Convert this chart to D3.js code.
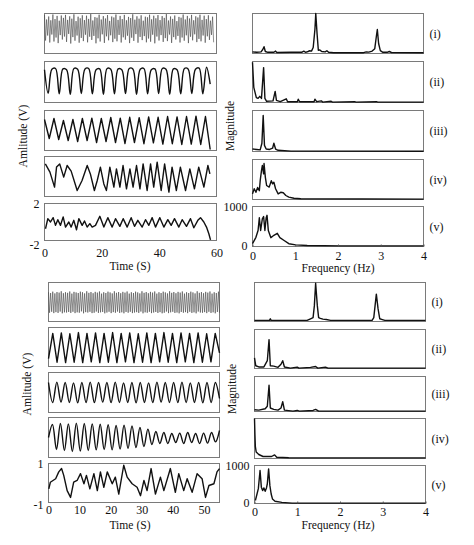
<!DOCTYPE html>
<html>
<head>
<meta charset="utf-8">
<script src="https://cdn.jsdelivr.net/npm/d3@7"></script>
<style>
  body { margin: 0; background: #fff; }
  svg text { font-family: "Liberation Serif", "DejaVu Serif", serif !important; fill: #111; }
</style>
</head>
<body>
<div id="chart"></div>
<script>
// ---------------- data ----------------
const panelNames = ['(i)', '(ii)', '(iii)', '(iv)', '(v)'];
const timeTicksTop = [0, 20, 40, 60];
const timeTicksBot = [0, 10, 20, 30, 40, 50];
const freqTicks = [0, 1, 2, 3, 4];

// record 1, time signals (evenly sampled values)
const rec1Sig1 = [
  .92,-.35,.70,-.10,.85,-.45,.66,-.05,.95,-.40,.72,-.20,.88,-.48,.64,-.08,.90,-.30,
  .78,-.15,.93,-.42,.68,-.02,.86,-.50,.74,-.18,.96,-.36,.62,-.10,.84,-.46,.76,-.22,
  .91,-.38,.67,-.06,.89,-.44,.73,-.16,.97,-.32,.65,-.12,.82,-.49,.79,-.24,.94,-.40,
  .70,-.04,.87,-.47,.75,-.14,.92,-.34,.63,-.09,.85,-.43,.80,-.26,.95,-.39,.68,-.07,
  .88,-.45,.72,-.19,.93,-.31,.66,-.11,.83,-.48,.77,-.21,.96,-.37,.69,-.03,.86,-.46,
  .74,-.17,.91,-.33,.64,-.13,.84,-.44,.81,-.25,.94,-.41,.71,-.06,.89,-.49,.76,-.15,
  .92,-.35,.67,-.08,.87,-.42,.78,-.23,.97,-.38,.65,-.05,.85,-.47,.73,-.18,.90,-.30,
  .62,-.12,.83,-.45,.79,-.20,.95,-.36,.70,-.09,.88,-.48,.75,-.16,.93,-.34,.66,-.04,
  .86,-.43,.80,-.27,.94,-.39,.68,-.10,.89,-.46,.72,-.14,.91,-.32,.64,-.07,.84,-.44
];
const rec1Sig2 = [
  0.60,
  -0.55,0.62,0.66, -0.58,0.64,0.60, -0.60,0.66,0.62, -0.56,0.64,0.66, -0.58,0.60,0.64,
  -0.60,0.66,0.62, -0.58,0.64,0.60, -0.56,0.66,0.64, -0.60,0.62,0.66, -0.58,0.60,0.64,
  -0.56,0.66,0.62, -0.60,0.64,0.60, -0.58,0.66,0.64, -0.56,0.62,0.68, -0.58,0.72,-0.10
];
const rec1Sig3 = [
  0.55,-0.40,0.60,-0.45,0.50,-0.50,0.55,-0.55,0.60,-0.50,0.62,-0.60,0.60,-0.55,0.65,-0.60,
  0.62,-0.65,0.66,-0.60,0.64,-0.66,0.68,-0.62,0.66,-0.68,0.70,-0.66,0.68,-0.70,0.70,-0.68,
  0.72,-0.70,0.70,-0.95
];
// irregular signals as [time (s), amplitude]
const rec1Sig4 = [
  [0.3,0.63],[1.9,0.22],[3.5,-0.53],[4.2,0.47],[5.3,0.63],[6.7,-0.03],[7.9,0.55],[9.3,0.27],
  [11.4,-0.70],[13.1,-0.2],[14.9,0.55],[16.0,0.13],[17.4,-0.70],[18.4,-0.2],[19.5,0.47],
  [20.7,-0.37],[21.6,-0.7],[22.8,0.47],[24.2,-0.53],[25.1,0.38],[26.3,-0.53],[27.4,0.55],
  [28.6,-0.62],[29.8,0.38],[30.9,-0.53],[32.1,0.55],[33.3,-0.62],[34.4,0.63],[35.8,-0.7],
  [37.0,0.63],[38.1,-0.53],[39.3,0.72],[40.7,-0.7],[41.9,0.63],[43.4,-0.78],[44.5,0.47],
  [46.0,-0.7],[47.4,0.47],[49.2,-0.7],[50.7,0.38],[52.3,-0.62],[53.8,0.47],[55.6,-0.53],
  [57.0,0.55],[57.7,0.13]
];
const rec1Sig5 = [
  [0.35,-0.73],[1.16,0.36],[2.09,0.0],[3.02,0.47],[3.84,-0.36],[4.65,0.25],[5.58,-0.36],
  [6.51,0.55],[7.33,-0.55],[8.49,0.0],[9.3,-0.55],[10.23,0.18],[11.16,-0.84],[11.98,0.36],
  [13.14,-0.36],[13.95,0.11],[14.88,-0.55],[15.81,-0.18],[16.63,-0.55],[17.79,-0.36],
  [19.3,0.62],[20.7,-0.55],[22.09,0.47],[23.6,-0.55],[24.77,0.36],[26.28,-0.47],[27.44,0.36],
  [28.84,-0.55],[30.23,0.47],[31.4,-0.47],[32.56,0.18],[34.07,-0.55],[35.23,0.25],[36.4,-0.36],
  [37.56,0.47],[38.72,-0.55],[40.23,0.47],[41.63,-0.55],[43.02,0.25],[44.19,-0.36],[45.35,0.36],
  [46.86,-0.55],[48.02,0.25],[49.53,-0.47],[50.93,0.36],[52.09,-0.62],[53.49,0.18],[54.42,0.47],
  [55.58,0.0],[56.51,-0.55],[57.33,-1.27],[57.91,-1.93]
];

// record 1, spectra as [frequency (Hz), magnitude]
const rec1Spec1 = [[0,40],[0.1,30],[0.2,40],[0.24,100],[0.27,170],[0.3,50],[0.36,30],[0.5,30],[0.54,60],[0.57,25],
  [0.9,30],[1.15,30],[1.2,60],[1.24,30],[1.3,50],[1.34,70],[1.38,60],[1.42,150],[1.46,600],[1.48,1000],[1.51,500],
  [1.54,80],[1.57,90],[1.62,50],[1.7,40],[1.74,70],[1.78,30],[1.9,20],[2.6,20],[2.66,40],[2.72,35],[2.8,60],
  [2.86,120],[2.9,450],[2.92,600],[2.95,250],[2.99,70],[3.05,30],[3.15,30],[3.2,50],[3.25,25],[4,20]];
const rec1Spec2 = [[0,980],[0.03,370],[0.09,120],[0.13,100],[0.17,150],[0.21,100],[0.23,400],[0.26,850],[0.29,100],
  [0.33,30],[0.48,40],[0.53,270],[0.56,50],[0.65,20],[0.79,90],[0.82,20],[1.05,20],[1.07,80],[1.1,20],[1.44,20],
  [1.46,80],[1.5,20],[1.61,40],[1.64,10],[1.84,30],[1.87,10],[2.39,20],[2.42,10],[2.9,20],[2.93,10],[4,10]];
const rec1Spec3 = [[0,60],[0.1,50],[0.18,40],[0.22,200],[0.25,880],[0.28,150],[0.32,60],[0.4,50],[0.47,80],
  [0.5,200],[0.54,60],[0.6,30],[0.9,10],[4,5]];
const rec1Spec4 = [[0,140],[0.04,270],[0.08,180],[0.12,300],[0.16,220],[0.18,470],[0.21,720],[0.23,850],[0.26,640],
  [0.27,900],[0.3,560],[0.33,350],[0.39,310],[0.44,470],[0.47,390],[0.5,430],[0.54,270],[0.6,140],[0.66,180],
  [0.72,170],[0.78,100],[0.85,60],[0.97,30],[1.13,20],[4,10]];
const rec1Spec5 = [[0,70],[0.08,230],[0.13,400],[0.16,720],[0.19,400],[0.23,690],[0.26,750],[0.29,400],[0.32,720],
  [0.34,780],[0.37,400],[0.43,220],[0.5,280],[0.58,330],[0.64,220],[0.74,150],[0.85,70],[1.01,40],[1.28,25],
  [2.06,15],[4,15]];

// record 2, time signals
const rec2Sig1 = [
  .50,-.55,.46,-.50,.53,-.57,.44,-.52,.51,-.56,.48,-.49,.55,-.58,.45,-.53,.50,-.54,
  .47,-.51,.54,-.56,.43,-.50,.52,-.57,.49,-.53,.46,-.55,.53,-.48,.50,-.58,.44,-.52,
  .55,-.54,.47,-.50,.51,-.57,.45,-.55,.52,-.49,.48,-.56,.54,-.53,.43,-.51,.50,-.58,
  .46,-.54,.53,-.50,.49,-.57,.44,-.52,.55,-.55,.47,-.49,.51,-.56,.45,-.53,.52,-.58,
  .48,-.51,.54,-.55,.43,-.50,.50,-.57,.46,-.54,.53,-.52,.49,-.56,.44,-.49,.55,-.58,
  .47,-.53,.51,-.55,.45,-.50,.52,-.57,.48,-.54,.54,-.51,.43,-.56,.50,-.52,.46,-.58,
  .53,-.55,.49,-.49,.44,-.57,.55,-.53,.47,-.50,.51,-.56,.45,-.54,.52,-.58,.48,-.51,
  .54,-.55,.43,-.52,.50,-.57,.46,-.50,.53,-.56,.49,-.53,.44,-.58,.55,-.49,.47,-.54,
  .51,-.55,.45,-.52,.52,-.57,.48,-.50,.54,-.56,.43,-.53,.50,-.58,.46,-.51,.53,-.55
];
const rec2Sig2 = [
  -0.60,0.70,-0.78,0.72,-0.80,0.68,-0.78,0.74,-0.80,0.70,-0.76,0.72,-0.80,0.70,-0.78,0.74,
  -0.80,0.70,-0.76,0.72,-0.80,0.68,-0.78,0.72,-0.80,0.70,-0.76,0.74,-0.78,0.70,-0.80,0.72,
  -0.76,0.70,-0.80,0.72,-0.78,0.68,-0.76,0.70,-0.30
];
const rec2Sig3 = [
  0.50,-0.50,0.52,-0.48,0.50,-0.50,0.48,-0.52,0.50,-0.50,0.52,-0.50,0.50,-0.48,0.50,-0.50,
  0.52,-0.50,0.48,-0.50,0.50,-0.52,0.50,-0.50,0.48,-0.50,0.52,-0.48,0.50,-0.50,0.50,-0.50,
  0.52,-0.50,0.48,-0.50,0.50,-0.52,0.50,-0.50,0.50,-0.30
];
const rec2Sig4 = [
  0.0,0.65,-0.60,0.70,-0.65,0.68,-0.70,0.72,-0.68,0.70,-0.65,0.68,-0.62,0.66,-0.60,0.64,
  -0.62,0.60,-0.58,0.62,-0.55,0.58,-0.50,0.50,-0.45,0.42,-0.35,0.30,-0.30,0.25,-0.30,0.20,
  -0.25,0.22,-0.30,0.25,-0.25,0.20,-0.30,0.22,-0.28,0.25,-0.22,0.35
];
const rec2Sig5 = [
  [0.1,-0.30],[0.6,0.04],[2.3,0.22],[3.3,0.57],[4.2,0.74],[4.9,0.39],[6.0,-0.39],[7.1,-0.74],
  [8.1,0.04],[9.2,0.13],[10.3,0.48],[11.4,-0.04],[12.2,0.39],[13.3,-0.30],[14.6,0.48],[15.7,-0.39],
  [16.7,0.57],[17.8,-0.22],[18.9,0.57],[20.5,-0.04],[21.5,0.30],[22.6,-0.57],[24.2,0.91],[25.3,0.30],
  [26.9,-0.04],[28.5,-0.22],[29.6,-0.65],[30.7,0.13],[31.7,-0.39],[33.0,0.74],[34.4,-0.57],[36.0,0.30],
  [37.1,-0.39],[39.2,0.74],[40.8,-0.48],[41.9,0.48],[43.5,-0.39],[44.6,0.22],[46.2,-0.48],[47.8,0.48],
  [49.4,0.22],[50.5,-0.74],[51.6,-0.13],[53.2,-0.04],[54.2,0.57],[55.0,0.74]
];

// record 2, spectra
const rec2Spec1 = [[0,30],[0.35,30],[0.37,70],[0.39,30],[1.23,30],[1.31,70],[1.37,100],[1.4,400],[1.43,980],
  [1.47,400],[1.5,100],[1.54,80],[1.6,60],[1.68,50],[1.78,30],[2.75,30],[2.79,100],[2.82,400],[2.85,700],
  [2.89,330],[2.93,70],[2.99,50],[3.05,30],[4,30]];
const rec2Spec2 = [[0,270],[0.03,70],[0.1,40],[0.22,40],[0.3,200],[0.34,740],[0.37,70],[0.45,60],[0.55,30],
  [0.62,110],[0.66,200],[0.7,40],[0.84,10],[1.0,35],[1.04,10],[1.31,30],[1.43,50],[1.48,10],[1.66,35],
  [1.72,10],[4,10]];
const rec2Spec3 = [[0,50],[0.1,40],[0.25,80],[0.3,150],[0.34,750],[0.37,100],[0.45,60],[0.55,40],[0.62,100],
  [0.66,280],[0.7,40],[0.9,10],[1.0,30],[1.05,10],[1.37,30],[1.43,60],[1.5,10],[4,10]];
const rec2Spec4 = [[0,1000],[0.01,600],[0.02,300],[0.04,160],[0.1,100],[0.2,50],[0.4,50],[0.47,90],[0.52,30],
  [0.8,20],[4,15]];
const rec2Spec5 = [[0.02,80],[0.05,210],[0.09,390],[0.13,870],[0.16,430],[0.19,340],[0.22,410],[0.25,320],
  [0.28,410],[0.3,520],[0.33,910],[0.36,470],[0.39,250],[0.42,120],[0.48,60],[0.64,30],[0.88,10],[4,10]];

// ---------------- layout ----------------
const FONT = '"Liberation Serif", "DejaVu Serif", serif';

const svg = d3.select('#chart').append('svg')
  .attr('width', 474)
  .attr('height', 545)
  .attr('font-family', FONT);

const even = (vals, end) => vals.map((v, i) => [i * end / (vals.length - 1), v]);

function addPanel(x0, x1, y0, y1, xDomain, yDomain) {
  const w = x1 - x0, h = y1 - y0;
  const g = svg.append('g').attr('transform', `translate(${x0 + 0.5},${y0 + 0.5})`);
  const x = d3.scaleLinear().domain(xDomain).range([0, w]);
  const y = d3.scaleLinear().domain(yDomain).range([h, 0]);
  g.append('rect')
    .attr('width', w).attr('height', h)
    .attr('fill', 'none').attr('stroke', '#7a7a7a').attr('stroke-width', 1);
  return { g, x, y, w, h };
}

function drawLine(p, pts, curve, width, color) {
  p.g.append('path')
    .datum(pts)
    .attr('fill', 'none')
    .attr('stroke', color || '#111')
    .attr('stroke-width', width || 1.4)
    .attr('stroke-linejoin', 'round')
    .attr('d', d3.line().x(d => p.x(d[0])).y(d => p.y(d[1])).curve(curve || d3.curveLinear));
}

function label(g) {
  return g.append('text').style('font-family', FONT).attr('font-size', '12px');
}

function bottomAxis(p, ticks, pad, inner) {
  const ax = p.g.append('g')
    .attr('transform', `translate(0,${p.h})`)
    .call(d3.axisBottom(p.x).tickValues(ticks).tickFormat(d3.format('d'))
      .tickSizeInner(inner ? -2 : 0).tickSizeOuter(0).tickPadding(pad));
  ax.attr('font-family', FONT);
  ax.select('.domain').remove();
  ax.selectAll('text').attr('font-size', '12px').style('font-family', FONT);
  ax.selectAll('line').attr('stroke', '#555');
}

function yEndLabels(p, lo, hi, loText, hiText, loShift) {
  label(p.g).attr('x', -5).attr('y', p.y(hi)).attr('dy', '0.35em')
    .attr('text-anchor', 'end').text(hiText);
  label(p.g).attr('x', -5).attr('y', p.y(lo) + loShift).attr('dy', '0.35em')
    .attr('text-anchor', 'end').text(loText);
}

function sideLabel(p, txt) {
  label(p.g).attr('x', p.w + 6).attr('y', p.h / 2).attr('dy', '0.35em').text(txt);
}

function vTitle(x, y, txt) {
  label(svg)
    .attr('transform', `translate(${x},${y}) rotate(-90)`)
    .attr('text-anchor', 'middle')
    .attr('font-size', '11.6px')
    .text(txt);
}

function hTitle(x, y, txt) {
  label(svg).attr('x', x).attr('y', y).attr('text-anchor', 'middle')
    .attr('font-size', '11.6px').text(txt);
}

// ---------- record 1 (top) ----------
const r1LeftRows = [[13, 53], [61, 102], [110, 150], [156, 196], [203, 240]];
const r1RightRows = [[13, 53], [61, 102], [110, 151], [159, 199], [206, 246]];

const r1Time = [
  { pts: even(rec1Sig1, 59), curve: d3.curveLinear, w: 0.6, c: '#444' },
  { pts: even(rec1Sig2, 57.8), curve: d3.curveCatmullRom },
  { pts: even(rec1Sig3, 57.8), curve: d3.curveLinear },
  { pts: rec1Sig4, curve: d3.curveLinear },
  { pts: rec1Sig5, curve: d3.curveLinear }
];
r1Time.forEach((s, i) => {
  const yDom = i === 4 ? [-2, 2] : [-1, 1];
  const p = addPanel(44, 216, r1LeftRows[i][0], r1LeftRows[i][1], [0, 60], yDom);
  drawLine(p, s.pts, s.curve, s.w, s.c);
  if (i === 4) {
    bottomAxis(p, timeTicksTop, 8, false);
    yEndLabels(p, -2, 2, '-2', '2', 4);
  }
});

const r1Spec = [rec1Spec1, rec1Spec2, rec1Spec3, rec1Spec4, rec1Spec5];
r1Spec.forEach((s, i) => {
  const p = addPanel(252, 423, r1RightRows[i][0], r1RightRows[i][1], [0, 4], [0, 1000]);
  drawLine(p, s, d3.curveLinear);
  sideLabel(p, panelNames[i]);
  if (i === 4) {
    bottomAxis(p, freqTicks, 5, true);
    yEndLabels(p, 0, 1000, '0', '1000', -1);
  }
});

vTitle(27, 136, 'Amlitude (V)');
vTitle(234, 126, 'Magnitude');
hTitle(130, 270, 'Time (S)');
hTitle(338, 272, 'Frequency (Hz)');

// ---------- record 2 (bottom) ----------
const r2LeftRows = [[282, 321], [327, 366], [372, 412], [417, 457], [463, 502]];
const r2RightRows = [[282, 321], [329, 368], [376, 411], [418, 458], [465, 503]];

const r2Time = [
  { pts: even(rec2Sig1, 55), curve: d3.curveLinear, w: 0.6, c: '#444' },
  { pts: even(rec2Sig2, 55), curve: d3.curveLinear },
  { pts: even(rec2Sig3, 55), curve: d3.curveCatmullRom },
  { pts: even(rec2Sig4, 55), curve: d3.curveCatmullRom },
  { pts: rec2Sig5, curve: d3.curveLinear }
];
r2Time.forEach((s, i) => {
  const p = addPanel(48, 219, r2LeftRows[i][0], r2LeftRows[i][1], [0, 55], [-1, 1]);
  drawLine(p, s.pts, s.curve, s.w, s.c);
  if (i === 4) {
    bottomAxis(p, timeTicksBot, 3, false);
    yEndLabels(p, -1, 1, '-1', '1', 2);
  }
});

const r2Spec = [rec2Spec1, rec2Spec2, rec2Spec3, rec2Spec4, rec2Spec5];
r2Spec.forEach((s, i) => {
  const p = addPanel(254, 425, r2RightRows[i][0], r2RightRows[i][1], [0, 4], [0, 1000]);
  drawLine(p, s, d3.curveLinear);
  sideLabel(p, panelNames[i]);
  if (i === 4) {
    bottomAxis(p, freqTicks, 4, true);
    yEndLabels(p, 0, 1000, '0', '1000', -1);
  }
});

vTitle(31, 384, 'Amlitude (V)');
vTitle(236, 389, 'Magnitude');
hTitle(130, 529, 'Time (S)');
hTitle(338, 529, 'Frequency (Hz)');
</script>
</body>
</html>
